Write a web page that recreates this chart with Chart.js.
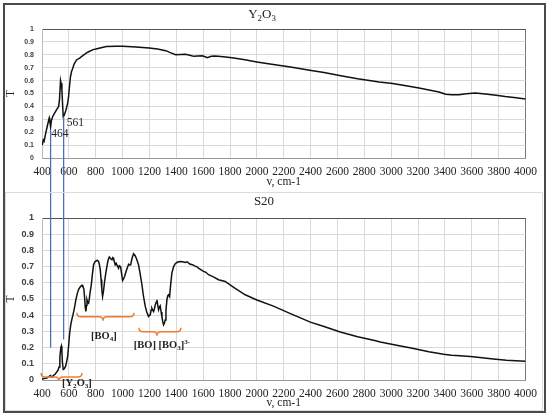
<!doctype html>
<html>
<head>
<meta charset="utf-8">
<title>Y2O3 / S20</title>
<script src="https://cdn.jsdelivr.net/npm/chart.js"></script>
<style>
  body { margin: 0; width: 550px; height: 416px; background: #fff; position: relative; overflow: hidden; }
  .frame { position: absolute; left: 3px; top: 3px; width: 543px; height: 410px; border: 2px solid #4a4a4a; box-sizing: border-box; }
  .box2 { position: absolute; left: 5px; top: 192px; width: 538px; height: 219px; border: 1px solid #dcdcdc; box-sizing: border-box; }
  .wrap { position: absolute; left: 5px; width: 539px; }
</style>
</head>
<body>
<div class="frame"></div>
<div class="box2"></div>
<div class="wrap" style="top:5px;height:187px"><canvas id="chartTop"></canvas></div>
<div class="wrap" style="top:193px;height:218px"><canvas id="chartBottom"></canvas></div>

<script>
// spectrum of Y2O3 (wavenumber, transmittance)
const wavenumbersY2O3 = [402, 410, 416, 425, 440, 454, 458, 464, 470, 479, 495, 509, 524, 530, 538, 542, 548, 553, 558, 565,
  578, 590, 598, 605, 612, 620, 627, 640, 657, 680, 706, 740, 780, 802, 840, 879, 951, 1000, 1100, 1197,
  1260, 1321, 1360, 1395, 1430, 1469, 1500, 1531, 1560, 1593, 1615, 1630, 1660, 1691, 1750, 1815, 1900, 2000, 2123, 2250,
  2393, 2500, 2615, 2750, 2911, 3010, 3100, 3207, 3300, 3356, 3405, 3450, 3504, 3560, 3627, 3701, 3780, 3849, 3930, 4000];
const transY2O3 = [0.10, 0.14, 0.13, 0.18, 0.25, 0.31, 0.29, 0.24, 0.29, 0.32, 0.35, 0.375, 0.40, 0.45, 0.60, 0.58, 0.53, 0.42, 0.32, 0.33,
  0.37, 0.42, 0.475, 0.56, 0.63, 0.67, 0.69, 0.73, 0.76, 0.775, 0.795, 0.82, 0.84, 0.845, 0.855, 0.865, 0.866, 0.866, 0.86, 0.853,
  0.845, 0.832, 0.815, 0.80, 0.803, 0.805, 0.797, 0.788, 0.79, 0.793, 0.785, 0.778, 0.788, 0.79, 0.785, 0.778, 0.763, 0.745, 0.724, 0.705,
  0.681, 0.662, 0.64, 0.615, 0.59, 0.578, 0.562, 0.542, 0.524, 0.512, 0.494, 0.49, 0.491, 0.498, 0.504, 0.496, 0.486, 0.476, 0.467, 0.458];

// spectrum of S20
const wavenumbersS20 = [400, 420, 437, 450, 462, 474, 488, 499, 510, 519, 527, 533, 540, 544, 548, 552, 558, 566, 576, 585,
  591, 598, 606, 614, 621, 630, 638, 645, 651, 663, 673, 685, 698, 705, 712, 718, 722, 727, 731, 735,
  740, 747, 752, 758, 767, 775, 784, 794, 804, 813, 821, 828, 834, 840, 845, 851, 858, 866, 875, 883,
  892, 901, 910, 921, 927, 933, 939, 945, 952, 958, 964, 970, 976, 985, 992, 1000, 1008, 1015, 1030, 1045,
  1052, 1060, 1070, 1082, 1094, 1105, 1119, 1130, 1144, 1155, 1169, 1180, 1193, 1200, 1206, 1212, 1218, 1225, 1231, 1237,
  1243, 1250, 1256, 1262, 1268, 1274, 1280, 1287, 1293, 1299, 1305, 1311, 1317, 1323, 1330, 1336, 1342, 1350, 1358, 1367,
  1380, 1392, 1410, 1429, 1448, 1466, 1480, 1500, 1520, 1540, 1555, 1565, 1600, 1620, 1640, 1680, 1714, 1764, 1830, 1913,
  2000, 2123, 2250, 2398, 2500, 2621, 2750, 2869, 2919, 3050, 3167, 3280, 3390, 3450, 3512, 3590, 3660, 3760, 3859, 4000];
const transS20 = [0.005, 0.01, 0.012, 0.02, 0.028, 0.018, 0.03, 0.037, 0.05, 0.06, 0.08, 0.14, 0.20, 0.21, 0.18, 0.11, 0.065, 0.07, 0.085, 0.12,
  0.145, 0.21, 0.29, 0.34, 0.37, 0.40, 0.43, 0.46, 0.49, 0.535, 0.56, 0.575, 0.585, 0.575, 0.56, 0.50, 0.45, 0.423, 0.46, 0.495,
  0.48, 0.474, 0.50, 0.54, 0.588, 0.65, 0.711, 0.73, 0.736, 0.738, 0.732, 0.71, 0.68, 0.62, 0.56, 0.515, 0.55, 0.608, 0.66, 0.70,
  0.74, 0.759, 0.75, 0.742, 0.755, 0.75, 0.73, 0.711, 0.72, 0.72, 0.70, 0.69, 0.705, 0.70, 0.66, 0.614, 0.625, 0.64, 0.68, 0.715,
  0.71, 0.711, 0.75, 0.779, 0.767, 0.745, 0.711, 0.66, 0.588, 0.52, 0.454, 0.42, 0.392, 0.40, 0.402, 0.43, 0.443, 0.43, 0.423, 0.44,
  0.464, 0.48, 0.495, 0.46, 0.433, 0.45, 0.458, 0.42, 0.388, 0.36, 0.34, 0.35, 0.371, 0.43, 0.495, 0.52, 0.526, 0.515, 0.59, 0.66,
  0.70, 0.718, 0.728, 0.732, 0.73, 0.726, 0.73, 0.716, 0.712, 0.703, 0.698, 0.69, 0.672, 0.665, 0.65, 0.635, 0.619, 0.608, 0.57, 0.526,
  0.494, 0.456, 0.41, 0.357, 0.33, 0.296, 0.267, 0.245, 0.235, 0.213, 0.194, 0.175, 0.159, 0.153, 0.149, 0.145, 0.139, 0.13, 0.122, 0.116];

// axis ticks
const xTickValues = [400, 600, 800, 1000, 1200, 1400, 1600, 1800, 2000, 2200, 2400, 2600, 2800, 3000, 3200, 3400, 3600, 3800, 4000];
const yTickValues = [0, 0.1, 0.2, 0.3, 0.4, 0.5, 0.6, 0.7, 0.8, 0.9, 1];

// marked bands (blue lines joining both spectra)
const markWavenumbers = [464, 561];
const markTopT = [0.22, 0.32];
const markBottomT = [0.20, 0.25];
const markLabels = ['464', '561'];
const markLabelX = [468, 585];
const markLabelT = [0.163, 0.25];

// braces under S20 groups
const braceStart = [393, 660, 1122];
const braceEnd = [698, 1085, 1434];
const braceTip = [526, 854, 1256];
const braceLevel = [0.018, 0.39, 0.298];
const braceLabels = [
  [['[Y', 'n'], ['2', 'sub'], ['O', 'n'], ['3', 'sub'], [']', 'n']],
  [['[BO', 'n'], ['4', 'sub'], [']', 'n']],
  [['[BO] [BO', 'n'], ['3', 'sub'], [']', 'n'], ['3-', 'sup']]
];
const braceLabelX = [660, 861, 1293];
const braceLabelT = [-0.037, 0.253, 0.198];

const SERIF = "'Liberation Serif', 'Times New Roman', serif";
const SANS = "'Liberation Sans', Arial, sans-serif";

function drawRich(ctx, parts, x, y, size, weight, align) {
  const small = size * 0.68;
  let total = 0;
  const widths = parts.map(([t, k]) => {
    ctx.font = weight + ' ' + (k === 'n' ? size : small) + 'px ' + SERIF;
    const w = ctx.measureText(t).width;
    total += w;
    return w;
  });
  let cx = align === 'center' ? x - total / 2 : (align === 'right' ? x - total : x);
  ctx.textAlign = 'left';
  ctx.textBaseline = 'alphabetic';
  parts.forEach(([t, k], i) => {
    ctx.font = weight + ' ' + (k === 'n' ? size : small) + 'px ' + SERIF;
    const dy = k === 'sub' ? size * 0.22 : (k === 'sup' ? -size * 0.4 : 0);
    ctx.fillText(t, cx, y + dy);
    cx += widths[i];
  });
}

function overlay(kind) {
  return {
    id: 'overlay_' + kind,
    afterDraw(chart) {
      const ctx = chart.ctx, xs = chart.scales.x, ys = chart.scales.y;
      ctx.save();
      // blue connecting lines
      ctx.strokeStyle = '#4a6fb5';
      ctx.lineWidth = 1.3;
      markWavenumbers.forEach((v, i) => {
        const px = xs.getPixelForValue(v);
        ctx.beginPath();
        if (kind === 'top') {
          ctx.moveTo(px, ys.getPixelForValue(markTopT[i]));
          ctx.lineTo(px, chart.height);
        } else {
          ctx.moveTo(px, 0);
          ctx.lineTo(px, ys.getPixelForValue(markBottomT[i]));
        }
        ctx.stroke();
      });
      ctx.fillStyle = '#222';
      if (kind === 'top') {
        drawRich(ctx, [['Y', 'n'], ['2', 'sub'], ['O', 'n'], ['3', 'sub']], 257, 13, 13, 'normal', 'center');
        markLabels.forEach((t, i) => {
          drawRich(ctx, [[t, 'n']], xs.getPixelForValue(markLabelX[i]), ys.getPixelForValue(markLabelT[i]), 11.5, 'normal', 'left');
        });
      } else {
        drawRich(ctx, [['S20', 'n']], 259, 12, 13, 'normal', 'center');
        // braces
        ctx.strokeStyle = '#ed7d31';
        ctx.lineWidth = 1.5;
        const h = 4;
        braceStart.forEach((v, i) => {
          const x1 = xs.getPixelForValue(v), x2 = xs.getPixelForValue(braceEnd[i]);
          const xm = xs.getPixelForValue(braceTip[i]), y = ys.getPixelForValue(braceLevel[i]);
          ctx.beginPath();
          ctx.moveTo(x1, y - h);
          ctx.quadraticCurveTo(x1, y, x1 + h, y);
          ctx.lineTo(xm - h, y);
          ctx.quadraticCurveTo(xm, y, xm, y + h);
          ctx.quadraticCurveTo(xm, y, xm + h, y);
          ctx.lineTo(x2 - h, y);
          ctx.quadraticCurveTo(x2, y, x2, y - h);
          ctx.stroke();
        });
        ctx.fillStyle = '#222';
        braceLabels.forEach((parts, i) => {
          drawRich(ctx, parts, xs.getPixelForValue(braceLabelX[i]), ys.getPixelForValue(braceLabelT[i]), i === 0 ? 10.5 : 10.5, 'bold', 'center');
        });
      }
      ctx.restore();
    }
  };
}

function makeChart(id, kind, xs, ys, geo) {
  return new Chart(document.getElementById(id).getContext('2d'), {
    type: 'line',
    data: {
      datasets: [{
        data: xs.map((v, i) => ({ x: v, y: ys[i] })),
        borderColor: '#111',
        borderWidth: 1.5,
        pointRadius: 0,
        tension: 0,
        fill: false
      }]
    },
    options: {
      responsive: true,
      maintainAspectRatio: false,
      animation: false,
      events: [],
      layout: { padding: { left: 0, right: 16, top: geo.top, bottom: 0 } },
      plugins: { legend: { display: false }, tooltip: { enabled: false } },
      scales: {
        x: {
          type: 'linear',
          min: 400,
          max: 4000,
          afterBuildTicks: s => { s.ticks = xTickValues.map(v => ({ value: v })); },
          afterFit: s => { s.height = geo.xHeight; },
          grid: {
            drawTicks: false,
            color: c => (c.tick && c.tick.value === 4000) ? '#777' : '#d9d9d9'
          },
          border: { color: '#999' },
          ticks: {
            autoSkip: false,
            maxRotation: 0,
            minRotation: 0,
            padding: geo.tickPad,
            color: '#222',
            font: { family: SERIF, size: 11.5 },
            callback: v => String(v)
          },
          title: {
            display: true,
            text: 'v, cm-1',
            color: '#222',
            font: { family: SERIF, size: 11.5, lineHeight: 1.2 },
            padding: { top: 0, bottom: geo.titlePad }
          }
        },
        y: {
          min: 0,
          max: 1,
          afterBuildTicks: s => { s.ticks = yTickValues.map(v => ({ value: v })); },
          afterFit: s => { s.width = 37; },
          grid: {
            drawTicks: false,
            color: c => (c.tick && c.tick.value === 1) ? '#555' : '#d9d9d9'
          },
          border: { color: '#bbb' },
          ticks: {
            padding: 8,
            color: '#404040',
            font: { family: SANS, size: geo.yFont, weight: 'bold' },
            callback: v => String(+(+v).toFixed(1))
          },
          title: {
            display: true,
            text: 'T',
            color: '#222',
            font: { family: SERIF, size: 11.5, lineHeight: 1 },
            padding: 0
          }
        }
      }
    },
    plugins: [overlay(kind)]
  });
}

makeChart('chartTop', 'top', wavenumbersY2O3, transY2O3, { top: 24, xHeight: 34, tickPad: 7, titlePad: 3, yFont: 7 });
makeChart('chartBottom', 'bottom', wavenumbersS20, transS20, { top: 25, xHeight: 31, tickPad: 7, titlePad: 1.5, yFont: 9 });
</script>
</body>
</html>
